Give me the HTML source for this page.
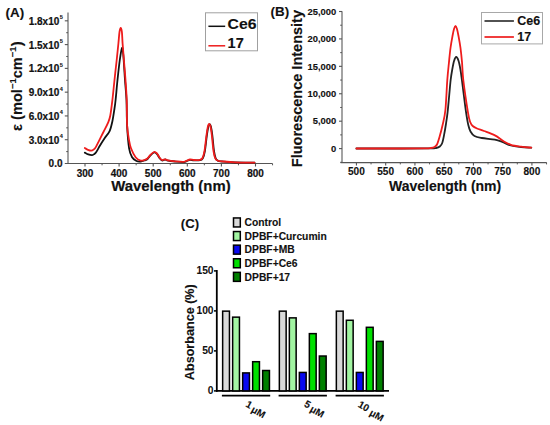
<!DOCTYPE html>
<html><head><meta charset="utf-8"><style>
html,body{margin:0;padding:0;background:#fff;width:550px;height:425px;overflow:hidden}
svg{display:block}
</style></head><body>
<svg width="550" height="425" viewBox="0 0 550 425">
<rect width="550" height="425" fill="#fff"/>
<line x1="68.00" y1="12.40" x2="68.00" y2="163.50" stroke="#999" stroke-width="1.80"/>
<line x1="64.80" y1="163.50" x2="272.50" y2="163.50" stroke="#555" stroke-width="1.10"/>
<line x1="64.80" y1="139.72" x2="68.00" y2="139.72" stroke="#555" stroke-width="1.10"/>
<line x1="64.80" y1="115.94" x2="68.00" y2="115.94" stroke="#555" stroke-width="1.10"/>
<line x1="64.80" y1="92.16" x2="68.00" y2="92.16" stroke="#555" stroke-width="1.10"/>
<line x1="64.80" y1="68.38" x2="68.00" y2="68.38" stroke="#555" stroke-width="1.10"/>
<line x1="64.80" y1="44.60" x2="68.00" y2="44.60" stroke="#555" stroke-width="1.10"/>
<line x1="64.80" y1="20.82" x2="68.00" y2="20.82" stroke="#555" stroke-width="1.10"/>
<line x1="66.20" y1="151.61" x2="68.00" y2="151.61" stroke="#555" stroke-width="1.00"/>
<line x1="66.20" y1="127.83" x2="68.00" y2="127.83" stroke="#555" stroke-width="1.00"/>
<line x1="66.20" y1="104.05" x2="68.00" y2="104.05" stroke="#555" stroke-width="1.00"/>
<line x1="66.20" y1="80.27" x2="68.00" y2="80.27" stroke="#555" stroke-width="1.00"/>
<line x1="66.20" y1="56.49" x2="68.00" y2="56.49" stroke="#555" stroke-width="1.00"/>
<line x1="66.20" y1="32.71" x2="68.00" y2="32.71" stroke="#555" stroke-width="1.00"/>
<line x1="85.00" y1="163.50" x2="85.00" y2="166.50" stroke="#555" stroke-width="1.10"/>
<line x1="119.10" y1="163.50" x2="119.10" y2="166.50" stroke="#555" stroke-width="1.10"/>
<line x1="153.20" y1="163.50" x2="153.20" y2="166.50" stroke="#555" stroke-width="1.10"/>
<line x1="187.30" y1="163.50" x2="187.30" y2="166.50" stroke="#555" stroke-width="1.10"/>
<line x1="221.40" y1="163.50" x2="221.40" y2="166.50" stroke="#555" stroke-width="1.10"/>
<line x1="255.50" y1="163.50" x2="255.50" y2="166.50" stroke="#555" stroke-width="1.10"/>
<line x1="102.05" y1="163.50" x2="102.05" y2="165.30" stroke="#555" stroke-width="1.00"/>
<line x1="136.15" y1="163.50" x2="136.15" y2="165.30" stroke="#555" stroke-width="1.00"/>
<line x1="170.25" y1="163.50" x2="170.25" y2="165.30" stroke="#555" stroke-width="1.00"/>
<line x1="204.35" y1="163.50" x2="204.35" y2="165.30" stroke="#555" stroke-width="1.00"/>
<line x1="238.45" y1="163.50" x2="238.45" y2="165.30" stroke="#555" stroke-width="1.00"/>
<line x1="272.55" y1="163.50" x2="272.55" y2="165.30" stroke="#555" stroke-width="1.00"/>
<text transform="translate(62.50,166.80)" font-family="Liberation Sans, sans-serif" font-weight="bold" font-size="10.00" text-anchor="end" fill="#111" stroke="#111" stroke-width="0.20">0.0</text>
<text transform="translate(62.80,143.62)" font-family="Liberation Sans, sans-serif" font-weight="bold" font-size="10.00" text-anchor="end" fill="#111" stroke="#111" stroke-width="0.20">3.0x10<tspan font-size='5.6' dy='-5.5' stroke-width='0.1' dx='0.4'>4</tspan></text>
<text transform="translate(62.80,119.84)" font-family="Liberation Sans, sans-serif" font-weight="bold" font-size="10.00" text-anchor="end" fill="#111" stroke="#111" stroke-width="0.20">6.0x10<tspan font-size='5.6' dy='-5.5' stroke-width='0.1' dx='0.4'>4</tspan></text>
<text transform="translate(62.80,96.06)" font-family="Liberation Sans, sans-serif" font-weight="bold" font-size="10.00" text-anchor="end" fill="#111" stroke="#111" stroke-width="0.20">9.0x10<tspan font-size='5.6' dy='-5.5' stroke-width='0.1' dx='0.4'>4</tspan></text>
<text transform="translate(62.80,72.28)" font-family="Liberation Sans, sans-serif" font-weight="bold" font-size="10.00" text-anchor="end" fill="#111" stroke="#111" stroke-width="0.20">1.2x10<tspan font-size='5.6' dy='-5.5' stroke-width='0.1' dx='0.4'>5</tspan></text>
<text transform="translate(62.80,48.50)" font-family="Liberation Sans, sans-serif" font-weight="bold" font-size="10.00" text-anchor="end" fill="#111" stroke="#111" stroke-width="0.20">1.5x10<tspan font-size='5.6' dy='-5.5' stroke-width='0.1' dx='0.4'>5</tspan></text>
<text transform="translate(62.80,24.72)" font-family="Liberation Sans, sans-serif" font-weight="bold" font-size="10.00" text-anchor="end" fill="#111" stroke="#111" stroke-width="0.20">1.8x10<tspan font-size='5.6' dy='-5.5' stroke-width='0.1' dx='0.4'>5</tspan></text>
<text transform="translate(85.00,176.60) scale(1.000,1.080)" font-family="Liberation Sans, sans-serif" font-weight="bold" font-size="10.00" text-anchor="middle" fill="#111" stroke="#111" stroke-width="0.20">300</text>
<text transform="translate(119.10,176.60) scale(1.000,1.080)" font-family="Liberation Sans, sans-serif" font-weight="bold" font-size="10.00" text-anchor="middle" fill="#111" stroke="#111" stroke-width="0.20">400</text>
<text transform="translate(153.20,176.60) scale(1.000,1.080)" font-family="Liberation Sans, sans-serif" font-weight="bold" font-size="10.00" text-anchor="middle" fill="#111" stroke="#111" stroke-width="0.20">500</text>
<text transform="translate(187.30,176.60) scale(1.000,1.080)" font-family="Liberation Sans, sans-serif" font-weight="bold" font-size="10.00" text-anchor="middle" fill="#111" stroke="#111" stroke-width="0.20">600</text>
<text transform="translate(221.40,176.60) scale(1.000,1.080)" font-family="Liberation Sans, sans-serif" font-weight="bold" font-size="10.00" text-anchor="middle" fill="#111" stroke="#111" stroke-width="0.20">700</text>
<text transform="translate(255.50,176.60) scale(1.000,1.080)" font-family="Liberation Sans, sans-serif" font-weight="bold" font-size="10.00" text-anchor="middle" fill="#111" stroke="#111" stroke-width="0.20">800</text>
<text transform="translate(170.90,191.30)" font-family="Liberation Sans, sans-serif" font-weight="bold" font-size="14.90" text-anchor="middle" fill="#111" stroke="#111" stroke-width="0.20">Wavelength (nm)</text>
<text transform="translate(22.40,86.20) rotate(-90.00)" font-family="Liberation Sans, sans-serif" font-weight="bold" font-size="14.60" text-anchor="middle" fill="#111" stroke="#111" stroke-width="0.12">ε (mol<tspan font-size="9.5" dy="-6.3">−1</tspan><tspan dy="6.3">cm</tspan><tspan font-size="9.5" dy="-6.3">−1</tspan><tspan dy="6.3">)</tspan></text>
<text transform="translate(5.60,16.60)" font-family="Liberation Sans, sans-serif" font-weight="bold" font-size="13.40" text-anchor="start" fill="#111" stroke="#111" stroke-width="0.12">(A)</text>
<path d="M84.80,152.60 C85.38,152.90 87.12,153.98 88.30,154.40 C89.48,154.82 90.95,155.13 91.90,155.10 C92.85,155.07 93.30,154.67 94.00,154.20 C94.70,153.73 95.10,153.75 96.10,152.30 C97.10,150.85 98.58,147.85 100.00,145.50 C101.42,143.15 103.00,140.60 104.60,138.20 C106.20,135.80 108.30,133.93 109.60,131.10 C110.90,128.27 111.58,124.97 112.40,121.20 C113.22,117.43 113.97,112.03 114.50,108.50 C115.03,104.97 115.10,104.75 115.60,100.00 C116.10,95.25 116.80,86.67 117.50,80.00 C118.20,73.33 119.05,65.35 119.80,60.00 C120.55,54.65 121.42,48.73 122.00,47.90 C122.58,47.07 122.80,49.65 123.30,55.00 C123.80,60.35 124.47,72.50 125.00,80.00 C125.53,87.50 126.15,92.43 126.50,100.00 C126.85,107.57 126.67,117.35 127.10,125.40 C127.53,133.45 128.27,143.00 129.10,148.30 C129.93,153.60 130.87,155.08 132.10,157.20 C133.33,159.32 135.07,160.28 136.50,161.00 C137.93,161.72 139.32,161.62 140.70,161.50 C142.08,161.38 143.67,160.72 144.80,160.30 C145.93,159.88 146.63,159.75 147.50,159.00 C148.37,158.25 148.92,156.88 150.00,155.80 C151.08,154.72 152.83,152.80 154.00,152.50 C155.17,152.20 156.08,153.08 157.00,154.00 C157.92,154.92 158.67,156.92 159.50,158.00 C160.33,159.08 161.03,160.25 162.00,160.50 C162.97,160.75 164.30,159.47 165.30,159.50 C166.30,159.53 166.38,160.37 168.00,160.70 C169.62,161.03 172.40,161.28 175.00,161.50 C177.60,161.72 181.60,162.08 183.60,162.00 C185.60,161.92 185.93,161.37 187.00,161.00 C188.07,160.63 188.83,159.92 190.00,159.80 C191.17,159.68 192.33,160.25 194.00,160.30 C195.67,160.35 198.53,160.43 200.00,160.10 C201.47,159.77 201.98,159.82 202.80,158.30 C203.62,156.78 204.22,154.88 204.90,151.00 C205.58,147.12 206.32,139.08 206.90,135.00 C207.48,130.92 207.95,128.30 208.40,126.50 C208.85,124.70 209.18,124.20 209.60,124.20 C210.02,124.20 210.45,124.70 210.90,126.50 C211.35,128.30 211.78,130.92 212.30,135.00 C212.82,139.08 213.42,147.07 214.00,151.00 C214.58,154.93 215.05,156.93 215.80,158.60 C216.55,160.27 217.47,160.52 218.50,161.00 C219.53,161.48 219.25,161.25 222.00,161.50 C224.75,161.75 229.58,162.30 235.00,162.50 C240.42,162.70 251.25,162.67 254.50,162.70" fill="none" stroke="#111" stroke-width="1.80" stroke-linejoin="round" stroke-linecap="round"/>
<path d="M84.80,148.00 C85.33,148.30 86.93,149.37 88.00,149.80 C89.07,150.23 90.28,150.63 91.20,150.60 C92.12,150.57 92.68,150.27 93.50,149.60 C94.32,148.93 94.48,149.45 96.10,146.60 C97.72,143.75 101.20,136.50 103.20,132.50 C105.20,128.50 106.92,125.43 108.10,122.60 C109.28,119.77 109.58,119.27 110.30,115.50 C111.02,111.73 111.70,105.92 112.40,100.00 C113.10,94.08 113.78,86.67 114.50,80.00 C115.22,73.33 116.05,66.08 116.70,60.00 C117.35,53.92 117.93,48.17 118.40,43.50 C118.87,38.83 119.12,34.58 119.50,32.00 C119.88,29.42 120.30,28.00 120.70,28.00 C121.10,28.00 121.58,29.42 121.90,32.00 C122.22,34.58 122.27,38.83 122.60,43.50 C122.93,48.17 123.42,53.92 123.90,60.00 C124.38,66.08 125.03,73.33 125.50,80.00 C125.97,86.67 126.43,92.43 126.70,100.00 C126.97,107.57 126.72,118.73 127.10,125.40 C127.48,132.07 128.35,136.18 129.00,140.00 C129.65,143.82 129.90,145.43 131.00,148.30 C132.10,151.17 133.98,155.15 135.60,157.20 C137.22,159.25 139.17,160.17 140.70,160.60 C142.23,161.03 143.67,160.15 144.80,159.80 C145.93,159.45 146.63,159.25 147.50,158.50 C148.37,157.75 148.92,156.38 150.00,155.30 C151.08,154.22 152.83,152.30 154.00,152.00 C155.17,151.70 156.08,152.58 157.00,153.50 C157.92,154.42 158.67,156.42 159.50,157.50 C160.33,158.58 161.03,159.70 162.00,160.00 C162.97,160.30 164.30,159.23 165.30,159.30 C166.30,159.37 166.38,160.07 168.00,160.40 C169.62,160.73 172.40,161.07 175.00,161.30 C177.60,161.53 181.60,161.92 183.60,161.80 C185.60,161.68 185.93,160.98 187.00,160.60 C188.07,160.22 188.83,159.60 190.00,159.50 C191.17,159.40 192.33,159.95 194.00,160.00 C195.67,160.05 198.58,160.13 200.00,159.80 C201.42,159.47 201.75,159.47 202.50,158.00 C203.25,156.53 203.83,154.83 204.50,151.00 C205.17,147.17 205.92,139.17 206.50,135.00 C207.08,130.83 207.57,127.87 208.00,126.00 C208.43,124.13 208.70,123.80 209.10,123.80 C209.50,123.80 209.95,124.13 210.40,126.00 C210.85,127.87 211.28,130.83 211.80,135.00 C212.32,139.17 212.92,147.12 213.50,151.00 C214.08,154.88 214.55,156.67 215.30,158.30 C216.05,159.93 216.88,160.30 218.00,160.80 C219.12,161.30 219.17,161.05 222.00,161.30 C224.83,161.55 229.58,162.08 235.00,162.30 C240.42,162.52 251.25,162.55 254.50,162.60" fill="none" stroke="#ee1c1c" stroke-width="1.80" stroke-linejoin="round" stroke-linecap="round"/>
<rect x="205.5" y="12.8" width="52" height="38" fill="#fff" stroke="#a0a0a0" stroke-width="1"/>
<line x1="208.40" y1="26.30" x2="225.20" y2="26.30" stroke="#111" stroke-width="1.50"/>
<line x1="208.40" y1="45.80" x2="225.20" y2="45.80" stroke="#ee1c1c" stroke-width="1.50"/>
<text transform="translate(227.60,28.90) scale(1.080,1.000)" font-family="Liberation Sans, sans-serif" font-weight="bold" font-size="14.60" text-anchor="start" fill="#111" stroke="#111" stroke-width="0.12">Ce6</text>
<text transform="translate(227.60,47.70)" font-family="Liberation Sans, sans-serif" font-weight="bold" font-size="14.60" text-anchor="start" fill="#111" stroke="#111" stroke-width="0.12">17</text>
<line x1="342.00" y1="11.20" x2="342.00" y2="162.60" stroke="#8c8c8c" stroke-width="1.60"/>
<line x1="340.60" y1="162.60" x2="546.70" y2="162.60" stroke="#555" stroke-width="1.20"/>
<line x1="339.00" y1="148.60" x2="342.00" y2="148.60" stroke="#555" stroke-width="1.10"/>
<line x1="339.00" y1="121.18" x2="342.00" y2="121.18" stroke="#555" stroke-width="1.10"/>
<line x1="339.00" y1="93.76" x2="342.00" y2="93.76" stroke="#555" stroke-width="1.10"/>
<line x1="339.00" y1="66.34" x2="342.00" y2="66.34" stroke="#555" stroke-width="1.10"/>
<line x1="339.00" y1="38.92" x2="342.00" y2="38.92" stroke="#555" stroke-width="1.10"/>
<line x1="339.00" y1="11.50" x2="342.00" y2="11.50" stroke="#555" stroke-width="1.10"/>
<line x1="340.20" y1="162.31" x2="342.00" y2="162.31" stroke="#555" stroke-width="1.00"/>
<line x1="340.20" y1="134.89" x2="342.00" y2="134.89" stroke="#555" stroke-width="1.00"/>
<line x1="340.20" y1="107.47" x2="342.00" y2="107.47" stroke="#555" stroke-width="1.00"/>
<line x1="340.20" y1="80.05" x2="342.00" y2="80.05" stroke="#555" stroke-width="1.00"/>
<line x1="340.20" y1="52.63" x2="342.00" y2="52.63" stroke="#555" stroke-width="1.00"/>
<line x1="340.20" y1="25.21" x2="342.00" y2="25.21" stroke="#555" stroke-width="1.00"/>
<line x1="356.43" y1="162.60" x2="356.43" y2="165.40" stroke="#555" stroke-width="1.10"/>
<line x1="385.68" y1="162.60" x2="385.68" y2="165.40" stroke="#555" stroke-width="1.10"/>
<line x1="414.93" y1="162.60" x2="414.93" y2="165.40" stroke="#555" stroke-width="1.10"/>
<line x1="444.18" y1="162.60" x2="444.18" y2="165.40" stroke="#555" stroke-width="1.10"/>
<line x1="473.43" y1="162.60" x2="473.43" y2="165.40" stroke="#555" stroke-width="1.10"/>
<line x1="502.68" y1="162.60" x2="502.68" y2="165.40" stroke="#555" stroke-width="1.10"/>
<line x1="531.92" y1="162.60" x2="531.92" y2="165.40" stroke="#555" stroke-width="1.10"/>
<line x1="371.05" y1="162.60" x2="371.05" y2="164.40" stroke="#555" stroke-width="1.00"/>
<line x1="400.30" y1="162.60" x2="400.30" y2="164.40" stroke="#555" stroke-width="1.00"/>
<line x1="429.55" y1="162.60" x2="429.55" y2="164.40" stroke="#555" stroke-width="1.00"/>
<line x1="458.80" y1="162.60" x2="458.80" y2="164.40" stroke="#555" stroke-width="1.00"/>
<line x1="488.05" y1="162.60" x2="488.05" y2="164.40" stroke="#555" stroke-width="1.00"/>
<line x1="517.30" y1="162.60" x2="517.30" y2="164.40" stroke="#555" stroke-width="1.00"/>
<line x1="546.55" y1="162.60" x2="546.55" y2="164.40" stroke="#555" stroke-width="1.00"/>
<text transform="translate(336.20,151.90) scale(1.000,1.050)" font-family="Liberation Sans, sans-serif" font-weight="bold" font-size="9.40" text-anchor="end" fill="#111" stroke="#111" stroke-width="0.12">0</text>
<text transform="translate(336.20,124.48) scale(1.000,1.050)" font-family="Liberation Sans, sans-serif" font-weight="bold" font-size="9.40" text-anchor="end" fill="#111" stroke="#111" stroke-width="0.12">5,000</text>
<text transform="translate(336.20,97.06) scale(1.000,1.050)" font-family="Liberation Sans, sans-serif" font-weight="bold" font-size="9.40" text-anchor="end" fill="#111" stroke="#111" stroke-width="0.12">10,000</text>
<text transform="translate(336.20,69.64) scale(1.000,1.050)" font-family="Liberation Sans, sans-serif" font-weight="bold" font-size="9.40" text-anchor="end" fill="#111" stroke="#111" stroke-width="0.12">15,000</text>
<text transform="translate(336.20,42.22) scale(1.000,1.050)" font-family="Liberation Sans, sans-serif" font-weight="bold" font-size="9.40" text-anchor="end" fill="#111" stroke="#111" stroke-width="0.12">20,000</text>
<text transform="translate(336.20,14.80) scale(1.000,1.050)" font-family="Liberation Sans, sans-serif" font-weight="bold" font-size="9.40" text-anchor="end" fill="#111" stroke="#111" stroke-width="0.12">25,000</text>
<text transform="translate(356.43,175.40) scale(1.000,1.080)" font-family="Liberation Sans, sans-serif" font-weight="bold" font-size="10.10" text-anchor="middle" fill="#111" stroke="#111" stroke-width="0.12">500</text>
<text transform="translate(385.68,175.40) scale(1.000,1.080)" font-family="Liberation Sans, sans-serif" font-weight="bold" font-size="10.10" text-anchor="middle" fill="#111" stroke="#111" stroke-width="0.12">550</text>
<text transform="translate(414.93,175.40) scale(1.000,1.080)" font-family="Liberation Sans, sans-serif" font-weight="bold" font-size="10.10" text-anchor="middle" fill="#111" stroke="#111" stroke-width="0.12">600</text>
<text transform="translate(444.18,175.40) scale(1.000,1.080)" font-family="Liberation Sans, sans-serif" font-weight="bold" font-size="10.10" text-anchor="middle" fill="#111" stroke="#111" stroke-width="0.12">650</text>
<text transform="translate(473.43,175.40) scale(1.000,1.080)" font-family="Liberation Sans, sans-serif" font-weight="bold" font-size="10.10" text-anchor="middle" fill="#111" stroke="#111" stroke-width="0.12">700</text>
<text transform="translate(502.68,175.40) scale(1.000,1.080)" font-family="Liberation Sans, sans-serif" font-weight="bold" font-size="10.10" text-anchor="middle" fill="#111" stroke="#111" stroke-width="0.12">750</text>
<text transform="translate(531.92,175.40) scale(1.000,1.080)" font-family="Liberation Sans, sans-serif" font-weight="bold" font-size="10.10" text-anchor="middle" fill="#111" stroke="#111" stroke-width="0.12">800</text>
<text transform="translate(445.10,190.60)" font-family="Liberation Sans, sans-serif" font-weight="bold" font-size="14.00" text-anchor="middle" fill="#111" stroke="#111" stroke-width="0.15">Wavelength (nm)</text>
<text transform="translate(301.80,88.60) rotate(-90.00)" font-family="Liberation Sans, sans-serif" font-weight="bold" font-size="14.50" text-anchor="middle" fill="#111" stroke="#111" stroke-width="0.15">Fluorescence Intensity</text>
<text transform="translate(270.60,15.70)" font-family="Liberation Sans, sans-serif" font-weight="bold" font-size="13.40" text-anchor="start" fill="#111" stroke="#111" stroke-width="0.10">(B)</text>
<path d="M356.40,148.50 C363.67,148.50 387.73,148.52 400.00,148.50 C412.27,148.48 423.98,148.48 430.00,148.40 C436.02,148.32 434.48,148.32 436.12,148.00 C437.76,147.68 438.80,147.33 439.82,146.50 C440.84,145.67 441.55,144.88 442.25,143.00 C442.95,141.12 443.43,138.37 444.05,135.20 C444.67,132.03 445.38,127.77 445.96,124.00 C446.54,120.23 447.00,117.43 447.55,112.60 C448.10,107.77 448.72,100.43 449.24,95.00 C449.76,89.57 450.16,84.17 450.65,80.00 C451.14,75.83 451.59,73.17 452.16,70.00 C452.73,66.83 453.38,63.17 454.05,61.00 C454.72,58.83 455.44,57.00 456.20,57.00 C456.96,57.00 457.88,58.83 458.60,61.00 C459.32,63.17 459.95,66.83 460.50,70.00 C461.05,73.17 461.35,75.83 461.90,80.00 C462.45,84.17 463.10,89.57 463.80,95.00 C464.50,100.43 465.35,107.60 466.10,112.60 C466.85,117.60 467.57,121.85 468.30,125.00 C469.03,128.15 469.47,129.67 470.50,131.50 C471.53,133.33 472.62,134.92 474.50,136.00 C476.38,137.08 478.40,137.38 481.80,138.00 C485.20,138.62 491.50,139.05 494.90,139.70 C498.30,140.35 499.53,140.93 502.20,141.90 C504.87,142.87 507.75,144.65 510.90,145.50 C514.05,146.35 517.70,146.63 521.10,147.00 C524.50,147.37 529.60,147.58 531.30,147.70" fill="none" stroke="#222" stroke-width="1.80" stroke-linejoin="round" stroke-linecap="round"/>
<path d="M356.40,148.50 C363.67,148.50 388.57,148.52 400.00,148.50 C411.43,148.48 419.83,148.48 425.00,148.40 C430.17,148.32 429.42,148.23 431.00,148.00 C432.58,147.77 433.50,147.58 434.50,147.00 C435.50,146.42 436.17,146.17 437.00,144.50 C437.83,142.83 438.57,140.25 439.50,137.00 C440.43,133.75 441.62,129.50 442.60,125.00 C443.58,120.50 444.62,117.50 445.40,110.00 C446.18,102.50 446.70,88.00 447.30,80.00 C447.90,72.00 448.47,67.33 449.00,62.00 C449.53,56.67 449.92,52.33 450.50,48.00 C451.08,43.67 451.92,39.17 452.50,36.00 C453.08,32.83 453.50,30.67 454.00,29.00 C454.50,27.33 455.00,26.00 455.50,26.00 C456.00,26.00 456.50,27.33 457.00,29.00 C457.50,30.67 457.92,32.83 458.50,36.00 C459.08,39.17 459.92,43.67 460.50,48.00 C461.08,52.33 461.53,56.67 462.00,62.00 C462.47,67.33 462.30,71.57 463.30,80.00 C464.30,88.43 466.85,105.60 468.00,112.60 C469.15,119.60 469.42,119.77 470.20,122.00 C470.98,124.23 471.57,124.92 472.70,126.00 C473.83,127.08 475.12,127.67 477.00,128.50 C478.88,129.33 481.02,129.85 484.00,131.00 C486.98,132.15 491.63,133.70 494.90,135.40 C498.17,137.10 500.93,139.63 503.60,141.20 C506.27,142.77 507.98,143.88 510.90,144.80 C513.82,145.72 517.70,146.22 521.10,146.70 C524.50,147.18 529.60,147.53 531.30,147.70" fill="none" stroke="#ee1c1c" stroke-width="1.80" stroke-linejoin="round" stroke-linecap="round"/>
<rect x="481.5" y="12.5" width="61" height="31.4" fill="#fff" stroke="#a8a8a8" stroke-width="1"/>
<line x1="484.50" y1="21.00" x2="513.90" y2="21.00" stroke="#333" stroke-width="1.70"/>
<line x1="484.50" y1="37.00" x2="513.90" y2="37.00" stroke="#ee1c1c" stroke-width="1.70"/>
<text transform="translate(517.30,25.20)" font-family="Liberation Sans, sans-serif" font-weight="bold" font-size="12.50" text-anchor="start" fill="#111" stroke="#111" stroke-width="0.12">Ce6</text>
<text transform="translate(517.30,41.10)" font-family="Liberation Sans, sans-serif" font-weight="bold" font-size="12.50" text-anchor="start" fill="#111" stroke="#111" stroke-width="0.12">17</text>
<line x1="216.80" y1="270.00" x2="216.80" y2="391.80" stroke="#000" stroke-width="1.80"/>
<line x1="216.00" y1="390.90" x2="389.00" y2="390.90" stroke="#000" stroke-width="1.80"/>
<line x1="214.00" y1="390.90" x2="216.80" y2="390.90" stroke="#000" stroke-width="1.50"/>
<text transform="translate(213.60,394.40) scale(1.000,1.040)" font-family="Liberation Sans, sans-serif" font-weight="bold" font-size="10.30" text-anchor="end" fill="#111" stroke="#111" stroke-width="0.05">0</text>
<line x1="214.00" y1="350.90" x2="216.80" y2="350.90" stroke="#000" stroke-width="1.50"/>
<text transform="translate(213.60,354.40) scale(1.000,1.040)" font-family="Liberation Sans, sans-serif" font-weight="bold" font-size="10.30" text-anchor="end" fill="#111" stroke="#111" stroke-width="0.05">50</text>
<line x1="214.00" y1="310.90" x2="216.80" y2="310.90" stroke="#000" stroke-width="1.50"/>
<text transform="translate(213.60,314.40) scale(1.000,1.040)" font-family="Liberation Sans, sans-serif" font-weight="bold" font-size="10.30" text-anchor="end" fill="#111" stroke="#111" stroke-width="0.05">100</text>
<line x1="214.00" y1="270.90" x2="216.80" y2="270.90" stroke="#000" stroke-width="1.50"/>
<text transform="translate(213.60,274.40) scale(1.000,1.040)" font-family="Liberation Sans, sans-serif" font-weight="bold" font-size="10.30" text-anchor="end" fill="#111" stroke="#111" stroke-width="0.05">150</text>
<text transform="translate(194.00,332.20) rotate(-90.00)" font-family="Liberation Sans, sans-serif" font-weight="bold" font-size="12.60" text-anchor="middle" fill="#111" stroke="#111" stroke-width="0.12">Absorbance (%)</text>
<text transform="translate(180.80,228.40)" font-family="Liberation Sans, sans-serif" font-weight="bold" font-size="13.20" text-anchor="start" fill="#111" stroke="#111" stroke-width="0.10">(C)</text>
<rect x="222.65" y="311.15" width="6.8" height="79.75" fill="#d9d9d9" stroke="#000" stroke-width="1.5"/>
<rect x="232.65" y="317.15" width="6.8" height="73.75" fill="#a2f5a2" stroke="#000" stroke-width="1.5"/>
<rect x="242.65" y="372.91" width="6.8" height="17.99" fill="#0808f0" stroke="#000" stroke-width="1.5"/>
<rect x="252.65" y="361.71" width="6.8" height="29.19" fill="#00e000" stroke="#000" stroke-width="1.5"/>
<rect x="262.65" y="370.51" width="6.8" height="20.39" fill="#008000" stroke="#000" stroke-width="1.5"/>
<line x1="221.90" y1="395.60" x2="270.20" y2="395.60" stroke="#000" stroke-width="1.80"/>
<rect x="279.35" y="311.15" width="6.8" height="79.75" fill="#d9d9d9" stroke="#000" stroke-width="1.5"/>
<rect x="289.35" y="317.87" width="6.8" height="73.03" fill="#a2f5a2" stroke="#000" stroke-width="1.5"/>
<rect x="299.35" y="372.43" width="6.8" height="18.47" fill="#0808f0" stroke="#000" stroke-width="1.5"/>
<rect x="309.35" y="333.63" width="6.8" height="57.27" fill="#00e000" stroke="#000" stroke-width="1.5"/>
<rect x="319.35" y="356.03" width="6.8" height="34.87" fill="#008000" stroke="#000" stroke-width="1.5"/>
<line x1="278.60" y1="395.60" x2="326.90" y2="395.60" stroke="#000" stroke-width="1.80"/>
<rect x="336.35" y="311.15" width="6.8" height="79.75" fill="#d9d9d9" stroke="#000" stroke-width="1.5"/>
<rect x="346.35" y="320.27" width="6.8" height="70.63" fill="#a2f5a2" stroke="#000" stroke-width="1.5"/>
<rect x="356.35" y="372.43" width="6.8" height="18.47" fill="#0808f0" stroke="#000" stroke-width="1.5"/>
<rect x="366.35" y="327.31" width="6.8" height="63.59" fill="#00e000" stroke="#000" stroke-width="1.5"/>
<rect x="376.35" y="341.39" width="6.8" height="49.51" fill="#008000" stroke="#000" stroke-width="1.5"/>
<line x1="335.60" y1="395.60" x2="383.90" y2="395.60" stroke="#000" stroke-width="1.80"/>
<text transform="translate(245.00,406.20) rotate(29.00)" font-family="Liberation Sans, sans-serif" font-weight="bold" font-size="10.00" text-anchor="start" fill="#111" stroke="#111" stroke-width="0.12">1<tspan dx="-1.00" dy="2.10"> μM</tspan></text>
<text transform="translate(303.40,406.00) rotate(29.00)" font-family="Liberation Sans, sans-serif" font-weight="bold" font-size="10.00" text-anchor="start" fill="#111" stroke="#111" stroke-width="0.12">5<tspan dx="-0.90" dy="1.50"> μM</tspan></text>
<text transform="translate(357.20,406.60) rotate(29.00)" font-family="Liberation Sans, sans-serif" font-weight="bold" font-size="10.00" text-anchor="start" fill="#111" stroke="#111" stroke-width="0.12">10<tspan dx="0.10" dy="1.60"> μM</tspan></text>
<rect x="233.5" y="217.95" width="6.8" height="9" fill="#d9d9d9" stroke="#000" stroke-width="1.5"/>
<text transform="translate(244.60,226.10)" font-family="Liberation Sans, sans-serif" font-weight="bold" font-size="10.30" text-anchor="start" fill="#111" stroke="#111" stroke-width="0.12">Control</text>
<rect x="233.5" y="231.55" width="6.8" height="9" fill="#a2f5a2" stroke="#000" stroke-width="1.5"/>
<text transform="translate(244.60,239.70)" font-family="Liberation Sans, sans-serif" font-weight="bold" font-size="10.30" text-anchor="start" fill="#111" stroke="#111" stroke-width="0.12">DPBF+Curcumin</text>
<rect x="233.5" y="245.15" width="6.8" height="9" fill="#0808f0" stroke="#000" stroke-width="1.5"/>
<text transform="translate(244.60,253.30)" font-family="Liberation Sans, sans-serif" font-weight="bold" font-size="10.30" text-anchor="start" fill="#111" stroke="#111" stroke-width="0.12">DPBF+MB</text>
<rect x="233.5" y="258.75" width="6.8" height="9" fill="#00e000" stroke="#000" stroke-width="1.5"/>
<text transform="translate(244.60,266.90)" font-family="Liberation Sans, sans-serif" font-weight="bold" font-size="10.30" text-anchor="start" fill="#111" stroke="#111" stroke-width="0.12">DPBF+Ce6</text>
<rect x="233.5" y="272.35" width="6.8" height="9" fill="#008000" stroke="#000" stroke-width="1.5"/>
<text transform="translate(244.60,280.50)" font-family="Liberation Sans, sans-serif" font-weight="bold" font-size="10.30" text-anchor="start" fill="#111" stroke="#111" stroke-width="0.12">DPBF+17</text>
</svg>
</body></html>
